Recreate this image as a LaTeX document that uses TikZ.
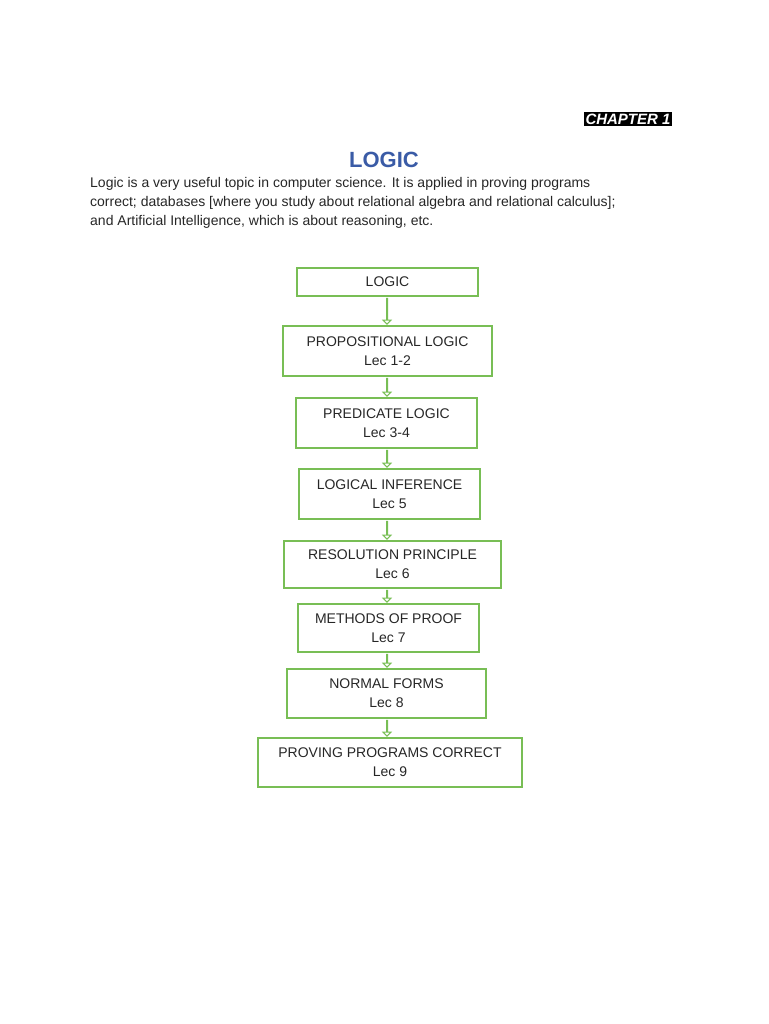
\documentclass[tikz,border=0pt]{standalone}
\usepackage{fontspec}
\setmainfont{Liberation Sans}
\usetikzlibrary{shapes.arrows,calc}
\definecolor{gr}{HTML}{78BE55}
\definecolor{tb}{HTML}{3A5BA6}
\begin{document}
\begin{tikzpicture}[x=1pt,y=-1pt,
  bx/.style={draw=gr,line width=1.2pt,align=center,inner sep=0pt,font=\fontsize{14}{19}\selectfont,text=black!85},
  arr/.style={single arrow,draw=gr,line width=1pt,shape border rotate=270,inner sep=0pt,minimum width=7pt,single arrow head extend=3.5pt,single arrow head indent=0pt}]
\useasboundingbox (0,0) rectangle (768,1024);
\node[fill=black,text=white,font=\fontsize{15}{15}\selectfont\bfseries\itshape,inner sep=1.5pt] (ch) at (628,119) {CHAPTER 1};
\node[text=tb,font=\fontsize{22}{22}\selectfont\bfseries] (t) at (384,160) {LOGIC};
\node[anchor=north west,align=left,inner sep=0pt,font=\fontsize{14}{19.2}\selectfont,text=black!85] (p) at (90,177) {Logic is a very useful topic in computer science. It is applied in proving programs\\correct; databases [where you study about relational algebra and relational calculus];\\and Artificial Intelligence, which is about reasoning, etc.};
\newcommand\bxat[6]{\node[bx,minimum width=#3-#2,minimum height=#5-#4] (#1) at ({(#2+#3)/2},{(#4+#5)/2}) {#6};}
\bxat{b1}{297}{478}{268}{296}{LOGIC}
\bxat{b2}{283}{492}{326}{376}{PROPOSITIONAL LOGIC\\Lec 1-2}
\bxat{b3}{296}{477}{398}{448}{PREDICATE LOGIC\\Lec 3-4}
\bxat{b4}{299}{480}{469}{519}{LOGICAL INFERENCE\\Lec 5}
\bxat{b5}{284}{501}{541}{588}{RESOLUTION PRINCIPLE\\Lec 6}
\bxat{b6}{298}{479}{604}{652}{METHODS OF PROOF\\Lec 7}
\bxat{b7}{287}{486}{669}{718}{NORMAL FORMS\\Lec 8}
\bxat{b8}{258}{522}{738}{787}{PROVING PROGRAMS CORRECT\\Lec 9}
\foreach \a/\b in {b1/b2,b2/b3,b3/b4,b4/b5,b5/b6,b6/b7,b7/b8}{
  \path let \p1=(\a.south), \p2=(\b.north) in
    node[arr,minimum height={max(\y1-\y2-3pt,10pt)}] at (387,{(\y1+\y2)/2}) {};
}
\end{tikzpicture}
\end{document}
